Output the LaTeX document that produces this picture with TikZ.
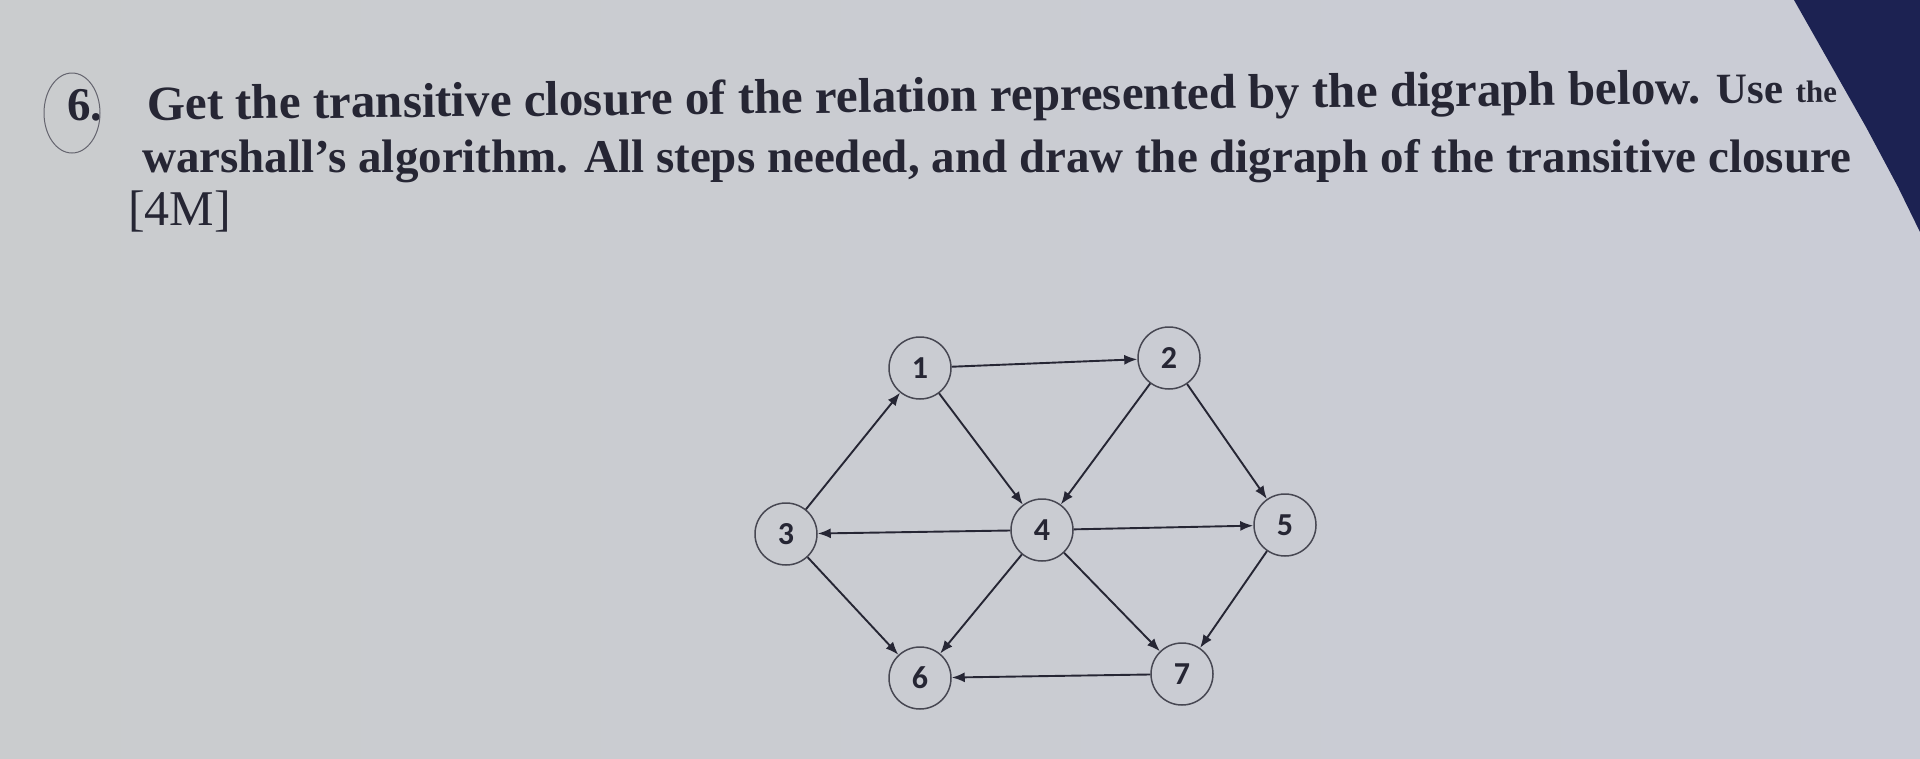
\documentclass[tikz,border=0pt]{standalone}
\usepackage{fontspec}
\setmainfont{Liberation Serif}
\newfontfamily\nodefont{Carlito}
\usepackage{xcolor}
\usetikzlibrary{arrows.meta}
\definecolor{paper}{RGB}{222,222,232}
\definecolor{paperleft}{RGB}{202,204,206}
\definecolor{paperright}{RGB}{202,204,214}
\definecolor{ink}{RGB}{38,38,52}
\definecolor{pencil}{RGB}{100,100,110}
\definecolor{cloth}{RGB}{28,34,82}

\begin{document}
\begin{tikzpicture}[x=1pt,y=-1pt,
    vertex/.style={draw=ink!85, circle, line width=1.5pt, minimum size=62pt, inner sep=0pt, text=ink, font={\nodefont\bfseries\fontsize{32}{32}\selectfont}},
    edge/.style={draw=ink, line width=1.9pt, -{Latex[length=13pt,width=10pt]}},
    qtext/.style={anchor=base west, inner sep=0pt, text=ink, font={\bfseries\fontsize{47}{50}\selectfont}}]
  \useasboundingbox (0,0) rectangle (1920,758);
  \shade[left color=paperleft, middle color=paper, right color=paperright] (0,0) rectangle (1920,758);
  \fill[cloth] (1794,0) -- (1866,127) -- (1898,187) -- (1920,232) -- (1920,0) -- cycle;

  \node[qtext] (num) at (67,120) {6.};
  \draw[pencil, line width=1pt] (72,113) ellipse (28 and 40);
  \node[qtext, rotate=0.6, font={\bfseries\fontsize{49}{50}\selectfont}] (line1) at (147,120) {Get the transitive closure of the relation represented by the digraph below. {\fontsize{43}{50}\selectfont Use} {\fontsize{31}{50}\selectfont the}};
  \node[qtext] (line2) at (142,172) {warshall’s algorithm. All steps needed, and draw the digraph of the transitive closure};
  \node[qtext, font={\fontsize{50}{50}\selectfont}] (marks) at (128,225) {[4M]};

  \node[vertex] (n1) at (920,368) {1};
  \node[vertex] (n2) at (1169,358) {2};
  \node[vertex] (n3) at (786,534) {3};
  \node[vertex] (n4) at (1042,530) {4};
  \node[vertex] (n5) at (1285,525) {5};
  \node[vertex] (n6) at (920,678) {6};
  \node[vertex] (n7) at (1182,674) {7};

  \draw[edge] (n1) -- (n2);
  \draw[edge] (n3) -- (n1);
  \draw[edge] (n1) -- (n4);
  \draw[edge] (n2) -- (n4);
  \draw[edge] (n2) -- (n5);
  \draw[edge] (n4) -- (n3);
  \draw[edge] (n4) -- (n5);
  \draw[edge] (n3) -- (n6);
  \draw[edge] (n4) -- (n6);
  \draw[edge] (n4) -- (n7);
  \draw[edge] (n5) -- (n7);
  \draw[edge] (n7) -- (n6);
\end{tikzpicture}
\end{document}
